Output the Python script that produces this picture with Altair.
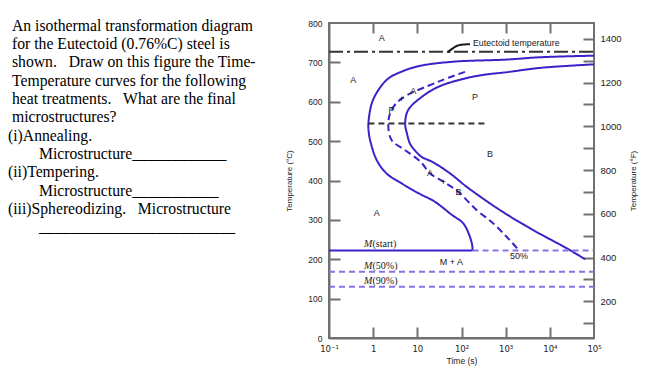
import altair as alt
import pandas as pd

# ---------------- data ----------------
time_domain = [0.1, 100000]
temp_domain = [0, 800]
fahr_domain = [32, 1472]

# transformation start curve (solid)
start_time = [100000, 6000, 1000, 70, 12.5, 5.3, 2.2, 1.3, 0.93, 0.78, 0.79, 0.85, 1.2, 2.0, 4.5, 10.5, 25, 60, 110, 155, 175, 178]
start_temp = [717, 713, 707, 702, 692, 680, 659, 629, 596, 545, 525, 503, 452, 418, 392, 368, 346, 313, 291, 257, 235, 222]
# transformation finish curve (solid)
finish_time = [100000, 6000, 1050, 300, 100, 30, 12.5, 6.2, 5.3, 5.8, 6.8, 9, 12.5, 23, 55, 131, 740, 4200, 24000, 63000]
finish_temp = [695, 686, 675, 668, 657, 638, 612, 579, 545, 520, 494, 475, 460, 446, 418, 384, 325, 274, 228, 200]
# 50 % curve (dashed)
half_time = [120, 30, 4.4, 2.6, 2.2, 2.6, 5.3, 12, 19.4, 39, 85, 220, 525, 1050, 1800, 1950]
half_temp = [676, 651, 608, 579, 545, 503, 477, 447, 418, 397, 371, 325, 291, 257, 228, 222]

eutectoid_temp = 727
ms_temp = 222
ms_end_time = 178
m50_temp = 168
m90_temp = 130
nose_line_temp = 545
nose_line_times = [0.78, 405]

arrow_times = [156, 83, 52]
arrow_temps = [746, 743, 728]

x_tick_values = [0.1, 1, 10, 100, 1000, 10000, 100000]
x_tick_labels = ["10\u207b\u00b9", "1", "10", "10\u00b2", "10\u00b3", "10\u2074", "10\u2075"]
x_inner_ticks = [1, 10, 100, 1000, 10000]
y_label_values = [0, 100, 200, 300, 400, 500, 600, 700, 800]
y_inner_ticks = [100, 200, 300, 400, 500, 600, 700]
f_label_values = [200, 400, 600, 800, 1000, 1200, 1400]
f_inner_ticks = [100, 200, 300, 400, 500, 600, 700, 800, 900, 1000, 1100, 1200, 1300, 1400]

region_labels = ["A", "A", "A", "P", "B", "P", "+", "A", "A", "+", "B", "M + A", "50%"]
region_times = [1.56, 0.355, 1.2, 202, 440, 2.6, 4.4, 8.1, 19.4, 39, 85, 59, 2000]
region_temps = [761, 655, 318, 611, 467, 579, 606, 628, 418, 397, 371, 194, 207]

m_letters = ["M", "M", "M"]
m_suffixes = ["(start)", "(50%)", "(90%)"]
m_label_times = [0.62, 0.62, 0.62]
m_label_temps = [232, 176.5, 137]

eut_label = ["Eutectoid temperature"]
eut_label_time = [182]
eut_label_temp = [748]

NB = "\u00a0"
# question text, one entry per printed line (line number on the page)
para_intro = ["An isothermal transformation diagram",
              "for the Eutectoid (0.76%C) steel is",
              "shown." + NB * 3 + "Draw on this figure the Time-",
              "Temperature curves for the following",
              "heat treatments." + NB * 3 + "What are the final",
              "microstructures?"]
para_intro_rows = [0, 1, 2, 3, 4, 5]
para_items = ["(i)Annealing.", "(ii)Tempering.",
              "(iii)Sphereodizing." + NB * 3 + "Microstructure"]
para_items_rows = [6, 8, 10]
para_blanks = ["Microstructure" + "_" * 12, "Microstructure" + "_" * 11, "_" * 25]
para_blanks_rows = [7, 9, 11]

# ---------------- build tables ----------------
rows = []
def add(name, times, temps):
    for i, (t, T) in enumerate(zip(times, temps)):
        rows.append({"series": name, "idx": i, "time": t, "temp": T})

add("start", start_time, start_temp)
add("finish", finish_time, finish_temp)
add("half", half_time, half_temp)
add("ms_solid", [time_domain[0], ms_end_time], [ms_temp, ms_temp])
add("ms_dash", [ms_end_time, time_domain[1]], [ms_temp, ms_temp])
add("m50", time_domain, [m50_temp, m50_temp])
add("m90", time_domain, [m90_temp, m90_temp])
add("eut", time_domain, [eutectoid_temp, eutectoid_temp])
add("nose", nose_line_times, [nose_line_temp, nose_line_temp])
add("arrow", arrow_times, arrow_temps)
lines_df = pd.DataFrame(rows)

BLUE = "#3a22c8"
LAV = "#8a72e4"
INK = "#1a1a1a"
series_names = ["start", "finish", "half", "ms_solid", "ms_dash", "m50", "m90", "eut", "nose", "arrow"]
series_colors = [BLUE, BLUE, BLUE, BLUE, LAV, LAV, LAV, "#333333", "#333333", INK]
series_dashes = [[1, 0], [1, 0], [7, 4], [1, 0], [6, 4], [6, 4], [6, 4], [14, 4, 3, 4], [6, 4], [1, 0]]
series_widths = [2, 2, 2, 2.6, 1.5, 1.5, 1.5, 0.8, 0.8, 0.8]

region_df = pd.DataFrame({"label": region_labels, "time": region_times, "temp": region_temps})
m_df = pd.DataFrame({"m": m_letters, "suffix": m_suffixes, "time": m_label_times, "temp": m_label_temps})
eut_df = pd.DataFrame({"label": eut_label, "time": eut_label_time, "temp": eut_label_temp})
head_df = pd.DataFrame({"time": [arrow_times[-1]], "temp": [arrow_temps[-1]]})

W, H = 265, 315
GRAY = "#707070"
SANS = "Liberation Sans"
SERIF = "Liberation Serif"

label_expr = "[" + ",".join(f"'{l}'" for l in x_tick_labels) + "][round(log(datum.value)/LN10)+1]"


def xenc(field, axis=None):
    return alt.X(field, type="quantitative", scale=alt.Scale(type="log", domain=time_domain), axis=axis)


def yenc(field, axis=None, domain=temp_domain):
    return alt.Y(field, type="quantitative", scale=alt.Scale(domain=domain), axis=axis)


main_x_axis = alt.Axis(values=x_tick_values, labelExpr=label_expr, ticks=False, tickSize=0,
                       labelPadding=6, labelFontSize=8.5, labelFont="DejaVu Sans", labelColor="#222",
                       labelFlush=False, labelOverlap=False, domainColor=GRAY, domainWidth=2,
                       grid=False, title="Time (s)", titleFont=SANS, titleFontSize=8.5,
                       titleFontWeight="normal", titleColor="#222", titlePadding=4)
main_y_axis = alt.Axis(values=y_label_values, ticks=False, tickSize=0, labelPadding=7,
                       labelFontSize=8.5, labelFont=SANS, labelColor="#222", labelFlush=False,
                       labelOverlap=False, domainColor=GRAY, domainWidth=2, grid=False,
                       title="Temperature (\u00b0C)", titleFont=SANS, titleFontSize=8,
                       titleFontWeight="normal", titleColor="#222", titlePadding=14)

curves = alt.Chart(lines_df).mark_line(interpolate="catmull-rom").encode(
    x=xenc("time", main_x_axis),
    y=yenc("temp", main_y_axis),
    color=alt.Color("series:N", scale=alt.Scale(domain=series_names, range=series_colors), legend=None),
    strokeDash=alt.StrokeDash("series:N", scale=alt.Scale(domain=series_names, range=series_dashes), legend=None),
    strokeWidth=alt.StrokeWidth("series:N", scale=alt.Scale(domain=series_names, range=series_widths), legend=None),
    detail="series:N",
    order="idx:Q",
)

head = alt.Chart(head_df).mark_point(shape="triangle", filled=True, size=14, angle=248,
                                     color=INK, opacity=1).encode(
    x=xenc("time"), y=yenc("temp"))

region_text = alt.Chart(region_df).mark_text(font=SANS, fontSize=9, color=INK,
                                             align="center", baseline="middle").encode(
    x=xenc("time"), y=yenc("temp"), text="label:N")

m_text = alt.Chart(m_df).mark_text(font=SERIF, fontSize=10, fontStyle="italic", color=INK,
                                   align="left", baseline="alphabetic").encode(
    x=xenc("time"), y=yenc("temp"), text="m:N")
m_suffix_text = alt.Chart(m_df).mark_text(font=SERIF, fontSize=10, color=INK, dx=8.5,
                                          align="left", baseline="alphabetic").encode(
    x=xenc("time"), y=yenc("temp"), text="suffix:N")

eut_text = alt.Chart(eut_df).mark_text(font=SANS, fontSize=8.8, color=INK,
                                       align="left", baseline="middle").encode(
    x=xenc("time"), y=yenc("temp"), text="label:N")

# inside-pointing ticks as extra axes on the frame
bottom_ticks = alt.Chart(pd.DataFrame({"v": x_inner_ticks})).mark_point(opacity=0).encode(
    x=xenc("v", alt.Axis(orient="top", offset=-H, values=x_inner_ticks, labels=False, domain=False,
                         tickSize=11, tickWidth=2, tickColor=GRAY, grid=False, title=None)))
top_ticks = alt.Chart(pd.DataFrame({"v": x_inner_ticks})).mark_point(opacity=0).encode(
    x=xenc("v", alt.Axis(orient="bottom", offset=-H, values=x_inner_ticks, labels=False, domain=False,
                         tickSize=10, tickWidth=2, tickColor=GRAY, grid=False, title=None)))
left_ticks = alt.Chart(pd.DataFrame({"v": y_inner_ticks})).mark_point(opacity=0).encode(
    y=yenc("v", alt.Axis(orient="right", offset=-W, values=y_inner_ticks, labels=False, domain=False,
                         tickSize=11, tickWidth=2, tickColor=GRAY, grid=False, title=None)))
right_ticks = alt.Chart(pd.DataFrame({"v": f_inner_ticks})).mark_point(opacity=0).encode(
    y=yenc("v", alt.Axis(orient="left", offset=-W, values=f_inner_ticks, labels=False, domain=False,
                         tickSize=11, tickWidth=2, tickColor=GRAY, grid=False, title=None),
           domain=fahr_domain))
right_labels = alt.Chart(pd.DataFrame({"v": f_label_values})).mark_point(opacity=0).encode(
    y=yenc("v", alt.Axis(orient="right", values=f_label_values, format="d", ticks=False, tickSize=0,
                         domain=False, labelPadding=6, labelFontSize=9.5, labelFont=SANS,
                         labelColor="#222", labelFlush=False, labelOverlap=False, grid=False,
                         title="Temperature (\u00b0F)", titleAngle=270, titleFont=SANS, titleFontSize=8,
                         titleFontWeight="normal", titleColor="#222", titlePadding=16),
           domain=fahr_domain))

# question text to the left of the plot: one text per printed line
LINE0, LINE_H = 7.7, 18.33
row_scale = alt.Scale(domain=[0, 11], range=[LINE0, LINE0 + 11 * LINE_H])
text_style = dict(font=SERIF, fontSize=15.7, color="#000000", align="left", baseline="alphabetic")


def para(lines, line_rows, xpx):
    df = pd.DataFrame({"t": lines, "row": line_rows})
    return alt.Chart(df).mark_text(**text_style).encode(
        x=alt.value(xpx), y=alt.Y("row:Q", scale=row_scale, axis=None), text="t:N")


p1 = para(para_intro, para_intro_rows, -317)
p2 = para(para_items, para_items_rows, -321)
p3 = para(para_blanks, para_blanks_rows, -290)

chart = alt.layer(
    curves, head, region_text, m_text, m_suffix_text, eut_text,
    bottom_ticks, top_ticks, left_ticks, right_ticks, right_labels,
    p1, p2, p3,
).resolve_scale(x="independent", y="independent").resolve_axis(
    x="independent", y="independent"
).properties(
    width=W, height=H,
    autosize=alt.AutoSizeParams(type="none"),
    padding={"left": 321, "top": 15, "right": 61, "bottom": 30},
    background="white",
).configure_view(stroke=GRAY, strokeWidth=2)

chart.save("out.html", embed_options={"renderer": "svg", "actions": False})
